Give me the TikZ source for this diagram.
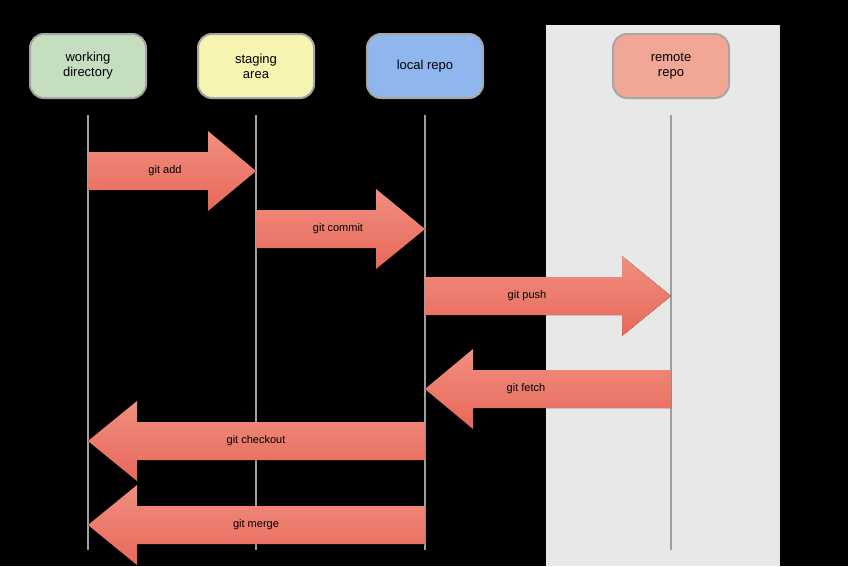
\documentclass[tikz,border=0pt]{standalone}
\usepackage{fontspec}
\setmainfont{Liberation Sans}
\definecolor{wdc}{HTML}{C6DEC0}
\definecolor{sac}{HTML}{F6F4B0}
\definecolor{lrc}{HTML}{8FB7EE}
\definecolor{rrc}{HTML}{F2A796}
\definecolor{arl}{HTML}{F08F80}
\definecolor{arr}{HTML}{E8685A}
\begin{document}
\begin{tikzpicture}[x=1pt,y=-1pt,
  box/.style={draw=gray!70,line width=2pt,rounded corners=14pt,minimum width=116pt,minimum height=64pt,align=center,font=\fontsize{13}{15}\selectfont},
  life/.style={draw=gray!75,line width=1.5pt},
  arrs/.style={top color=arl,bottom color=arr,draw=none},
  lab/.style={font=\fontsize{11}{13}\selectfont}]
\fill[black] (0,0) rectangle (848,566);
\useasboundingbox (0,0) rectangle (848,566);
\fill[gray!18] (546,25) rectangle (780,566);
\node[box,fill=wdc] (wd) at (88,66) {working\\directory};
\node[box,fill=sac] (sa) at (256,66) {staging\\area};
\node[box,fill=lrc] (lr) at (425,66) {local repo};
\node[box,fill=rrc] (rr) at (671,66) {remote\\repo};
\coordinate (wde) at (88,550); \coordinate (sae) at (256,550);
\coordinate (lre) at (425,550); \coordinate (rre) at (671,550);
\draw[life] (88,115) -- (wde);
\draw[life] (256,115) -- (sae);
\draw[life] (425,115) -- (lre);
\draw[life] (671,115) -- (rre);
\newcommand\rarr[6]{%
  \fill[arrs] (#1,#4-19) -- (#3,#4-19) -- (#3,#4-40) -- (#2,#4) -- (#3,#4+40) -- (#3,#4+19) -- (#1,#4+19) -- cycle;
  \node[lab] at (#6,#4) {#5};}
\rarr{88}{256}{208}{171}{git add}{165}
\rarr{256}{425}{376}{229}{git commit}{338}
\rarr{425}{671}{622}{296}{git push}{527}
\rarr{671}{425}{473}{389}{git fetch}{526}
\rarr{425}{88}{137}{441}{git checkout}{256}
\rarr{425}{88}{137}{525}{git merge}{256}
\end{tikzpicture}
\end{document}
